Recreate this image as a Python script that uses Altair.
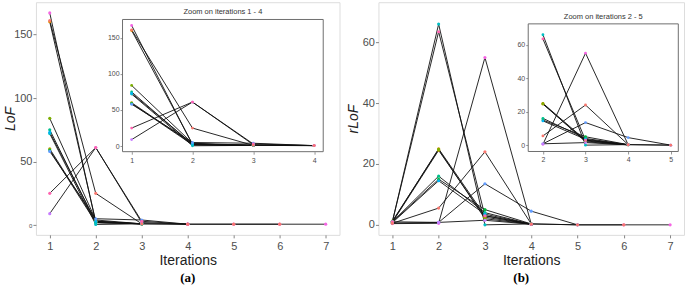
import altair as alt
import pandas as pd

ITER = [1, 2, 3, 4, 5, 6, 7]
SERIES = ["A", "B", "C", "D", "E", "F", "G", "H", "I", "J", "K", "L"]
PALETTE = ["#F8766D", "#DE8C00", "#B79F00", "#7CAE00", "#00BA38", "#00C08B",
           "#00BFC4", "#00B4F0", "#619CFF", "#C77CFF", "#F564E3", "#FF64B0"]
DRAW_ORDER = ["K", "B", "C", "D", "E", "F", "G", "H", "I", "J", "L", "A"]

# ---- LoF values per series, from iteration 1 on ----
lof_A = [161, 25, 1.0, 0.7, 0.7, 0.7]
lof_B = [160, 3, 0.8]
lof_C = [60, 3, 1]
lof_D = [84, 4, 1]
lof_E = [59, 2, 1]
lof_F = [75, 2, 1]
lof_G = [72, 0.5, 1]
lof_H = [73, 3, 1]
lof_I = [58, 5, 4, 0.7]
lof_J = [9, 61, 2, 0.7]
lof_K = [167, 2, 1, 0.7, 0.7, 0.7, 0.7]
lof_L = [25, 61, 3, 0.7]

# ---- rLoF values per series, from iteration 1 on ----
rlof_A = [0.5, 5.5, 24, 0.3, 0, 0]
rlof_B = [1.0, 25, 3, 0.2]
rlof_C = [0.8, 24.5, 2.5, 0.2]
rlof_D = [1.2, 24.8, 2, 0.2]
rlof_E = [0.9, 15, 5, 0.3]
rlof_F = [1.0, 16, 4, 0.2]
rlof_G = [1.0, 66, 0, 0.3]
rlof_H = [0.7, 14.5, 3.5, 0.2]
rlof_I = [0.6, 0.8, 13.5, 4.5, 0]
rlof_J = [1.0, 0.8, 1.5, 0.2]
rlof_K = [0.4, 0.5, 55, 0.3, 0, 0, 0]
rlof_L = [1.0, 63.5, 3, 0.2]

lof = dict(A=lof_A, B=lof_B, C=lof_C, D=lof_D, E=lof_E, F=lof_F, G=lof_G,
           H=lof_H, I=lof_I, J=lof_J, K=lof_K, L=lof_L)
rlof = dict(A=rlof_A, B=rlof_B, C=rlof_C, D=rlof_D, E=rlof_E, F=rlof_F, G=rlof_G,
            H=rlof_H, I=rlof_I, J=rlof_J, K=rlof_K, L=rlof_L)

# axis ticks / domains
lof_yticks = [0, 50, 100, 150]
lof_ydom = [-7.7, 175.4]
rlof_yticks = [0, 20, 40, 60]
rlof_ydom = [-3.3, 73.2]
main_xdom = [0.7, 7.3]

lof_inset_iters = [1, 4]
lof_inset_xdom = [0.85, 4.15]
lof_inset_ydom = [-7.7, 175.3]
lof_inset_xticks = [1, 1.5, 2, 2.5, 3, 3.5, 4]
rlof_inset_iters = [2, 5]
rlof_inset_xdom = [1.655, 5.178]
rlof_inset_ydom = [-3.8, 72.5]
rlof_inset_xticks = [2, 3, 4, 5]

FONT = "Liberation Sans"
LINE_W = 0.9
LINE_C = "#111111"


def make_panel(vals, ytitle, ydom, yticks, zero_small, iters, ixdom, ixrange,
               iydom, iyrange, ixticks, iyticks, ititle, label, W, H, label_dx):
    rows = []
    for name in DRAW_ORDER:
        for it, v in zip(ITER, vals[name]):
            rows.append({"series": name, "iteration": it, "value": v})
    df = pd.DataFrame(rows)
    ins = df[(df.iteration >= iters[0]) & (df.iteration <= iters[1])]

    color = alt.Color("series:N", scale=alt.Scale(domain=SERIES, range=PALETTE), legend=None)

    lab_size = 11
    if zero_small:
        lab_size = {"condition": {"test": "datum.value == 0", "value": 6}, "value": 11}

    xs = alt.Scale(domain=main_xdom, nice=False, zero=False)
    ys = alt.Scale(domain=ydom, nice=False, zero=False)
    x_axis = alt.Axis(values=ITER, format="d", title="Iterations", domain=False, grid=False,
                      tickSize=3, tickColor="#666", tickWidth=0.8, labelFontSize=11,
                      labelColor="#4d4d4d", labelFont=FONT, labelPadding=3,
                      titleFont=FONT, titleFontSize=14, titleFontWeight="normal",
                      titleColor="#222", titlePadding=2)
    y_axis = alt.Axis(values=yticks, format="d", title=ytitle, domain=False, grid=False,
                      tickSize=3, tickColor="#666", tickWidth=0.8, labelFontSize=lab_size,
                      labelColor="#4d4d4d", labelFont=FONT, labelPadding=1,
                      titleFont=FONT, titleFontSize=14, titleFontWeight="normal",
                      titleFontStyle="italic", titleColor="#222", titleX=-25,
                      titleBaseline="middle")

    main_lines = alt.Chart(df).mark_line(color=LINE_C, strokeWidth=LINE_W).encode(
        x=alt.X("iteration:Q", scale=xs, axis=x_axis),
        y=alt.Y("value:Q", scale=ys, axis=y_axis),
        detail="series:N",
    )
    main_pts = alt.Chart(df).mark_circle(size=10, opacity=1).encode(
        x=alt.X("iteration:Q", scale=xs, axis=None),
        y=alt.Y("value:Q", scale=ys, axis=None),
        color=color,
    )

    ixs = alt.Scale(domain=ixdom, range=ixrange, nice=False, zero=False)
    iys = alt.Scale(domain=iydom, range=iyrange, nice=False, zero=False)

    frame_df = pd.DataFrame([{"x0": ixdom[0], "x1": ixdom[1], "y0": iydom[0], "y1": iydom[1],
                              "xm": (ixdom[0] + ixdom[1]) / 2, "t": ititle}])
    frame = alt.Chart(frame_df).mark_rect(fill="white", stroke="#6e6e6e", strokeWidth=1).encode(
        x=alt.X("x0:Q", scale=ixs, axis=None), x2="x1:Q",
        y=alt.Y("y0:Q", scale=iys, axis=None), y2="y1:Q",
    )
    ititle_mark = alt.Chart(frame_df).mark_text(
        font=FONT, fontSize=7.5, color="#333", baseline="bottom", dy=-3
    ).encode(
        x=alt.X("xm:Q", scale=ixs, axis=None),
        y=alt.Y("y1:Q", scale=iys, axis=None),
        text="t:N",
    )
    ix_axis = alt.Axis(values=ixticks, orient="bottom", offset=iyrange[0] - H,
                       labelExpr="datum.value % 1 == 0 ? datum.label : ''",
                       format="d", title=None, domain=False, grid=False, tickSize=2.5,
                       tickColor="#666", tickWidth=0.7, labelFontSize=7, labelColor="#4d4d4d",
                       labelFont=FONT, labelPadding=2)
    iy_axis = alt.Axis(values=iyticks, orient="left", offset=-ixrange[0],
                       format="d", title=None, domain=False, grid=False, tickSize=2.5,
                       tickColor="#666", tickWidth=0.7, labelFontSize=7, labelColor="#4d4d4d",
                       labelFont=FONT, labelPadding=1)
    ilines = alt.Chart(ins).mark_line(color=LINE_C, strokeWidth=LINE_W).encode(
        x=alt.X("iteration:Q", scale=ixs, axis=ix_axis),
        y=alt.Y("value:Q", scale=iys, axis=iy_axis),
        detail="series:N",
    )
    ipts = alt.Chart(ins).mark_circle(size=8, opacity=1).encode(
        x=alt.X("iteration:Q", scale=ixs, axis=None),
        y=alt.Y("value:Q", scale=iys, axis=None),
        color=color,
    )

    return alt.layer(main_lines, main_pts, frame, ititle_mark, ilines, ipts).resolve_scale(
        x="independent", y="independent"
    ).resolve_axis(x="independent", y="independent").properties(
        width=W, height=H,
        title=alt.TitleParams(label, orient="bottom", anchor="middle", font="Liberation Serif",
                              fontSize=13, fontWeight="bold", color="black", offset=4, dx=label_dx),
    )


H = 233
WL = 304
WR = 306
left = make_panel(lof, "LoF", lof_ydom, lof_yticks, True, lof_inset_iters, lof_inset_xdom,
                  [86.7, 287.7], lof_inset_ydom, [149.7, 17.3], lof_inset_xticks,
                  [0, 50, 100, 150], "Zoom on iterations 1 - 4", "(a)", WL, H, 0)
right = make_panel(rlof, "rLoF", rlof_ydom, rlof_yticks, False, rlof_inset_iters, rlof_inset_xdom,
                   [150, 300.3], rlof_inset_ydom, [149.5, 21.7], rlof_inset_xticks,
                   [0, 20, 40, 60], "Zoom on iterations 2 - 5", "(b)", WR, H, -10)

chart = alt.hconcat(left, right, spacing=39, bounds="flush").properties(
    padding={"left": 3, "top": 1, "right": 0, "bottom": 0}
).configure_view(stroke="#6e6e6e", strokeWidth=1.1).configure(background="white")

chart.save("out.html", embed_options={"renderer": "svg", "actions": False})
